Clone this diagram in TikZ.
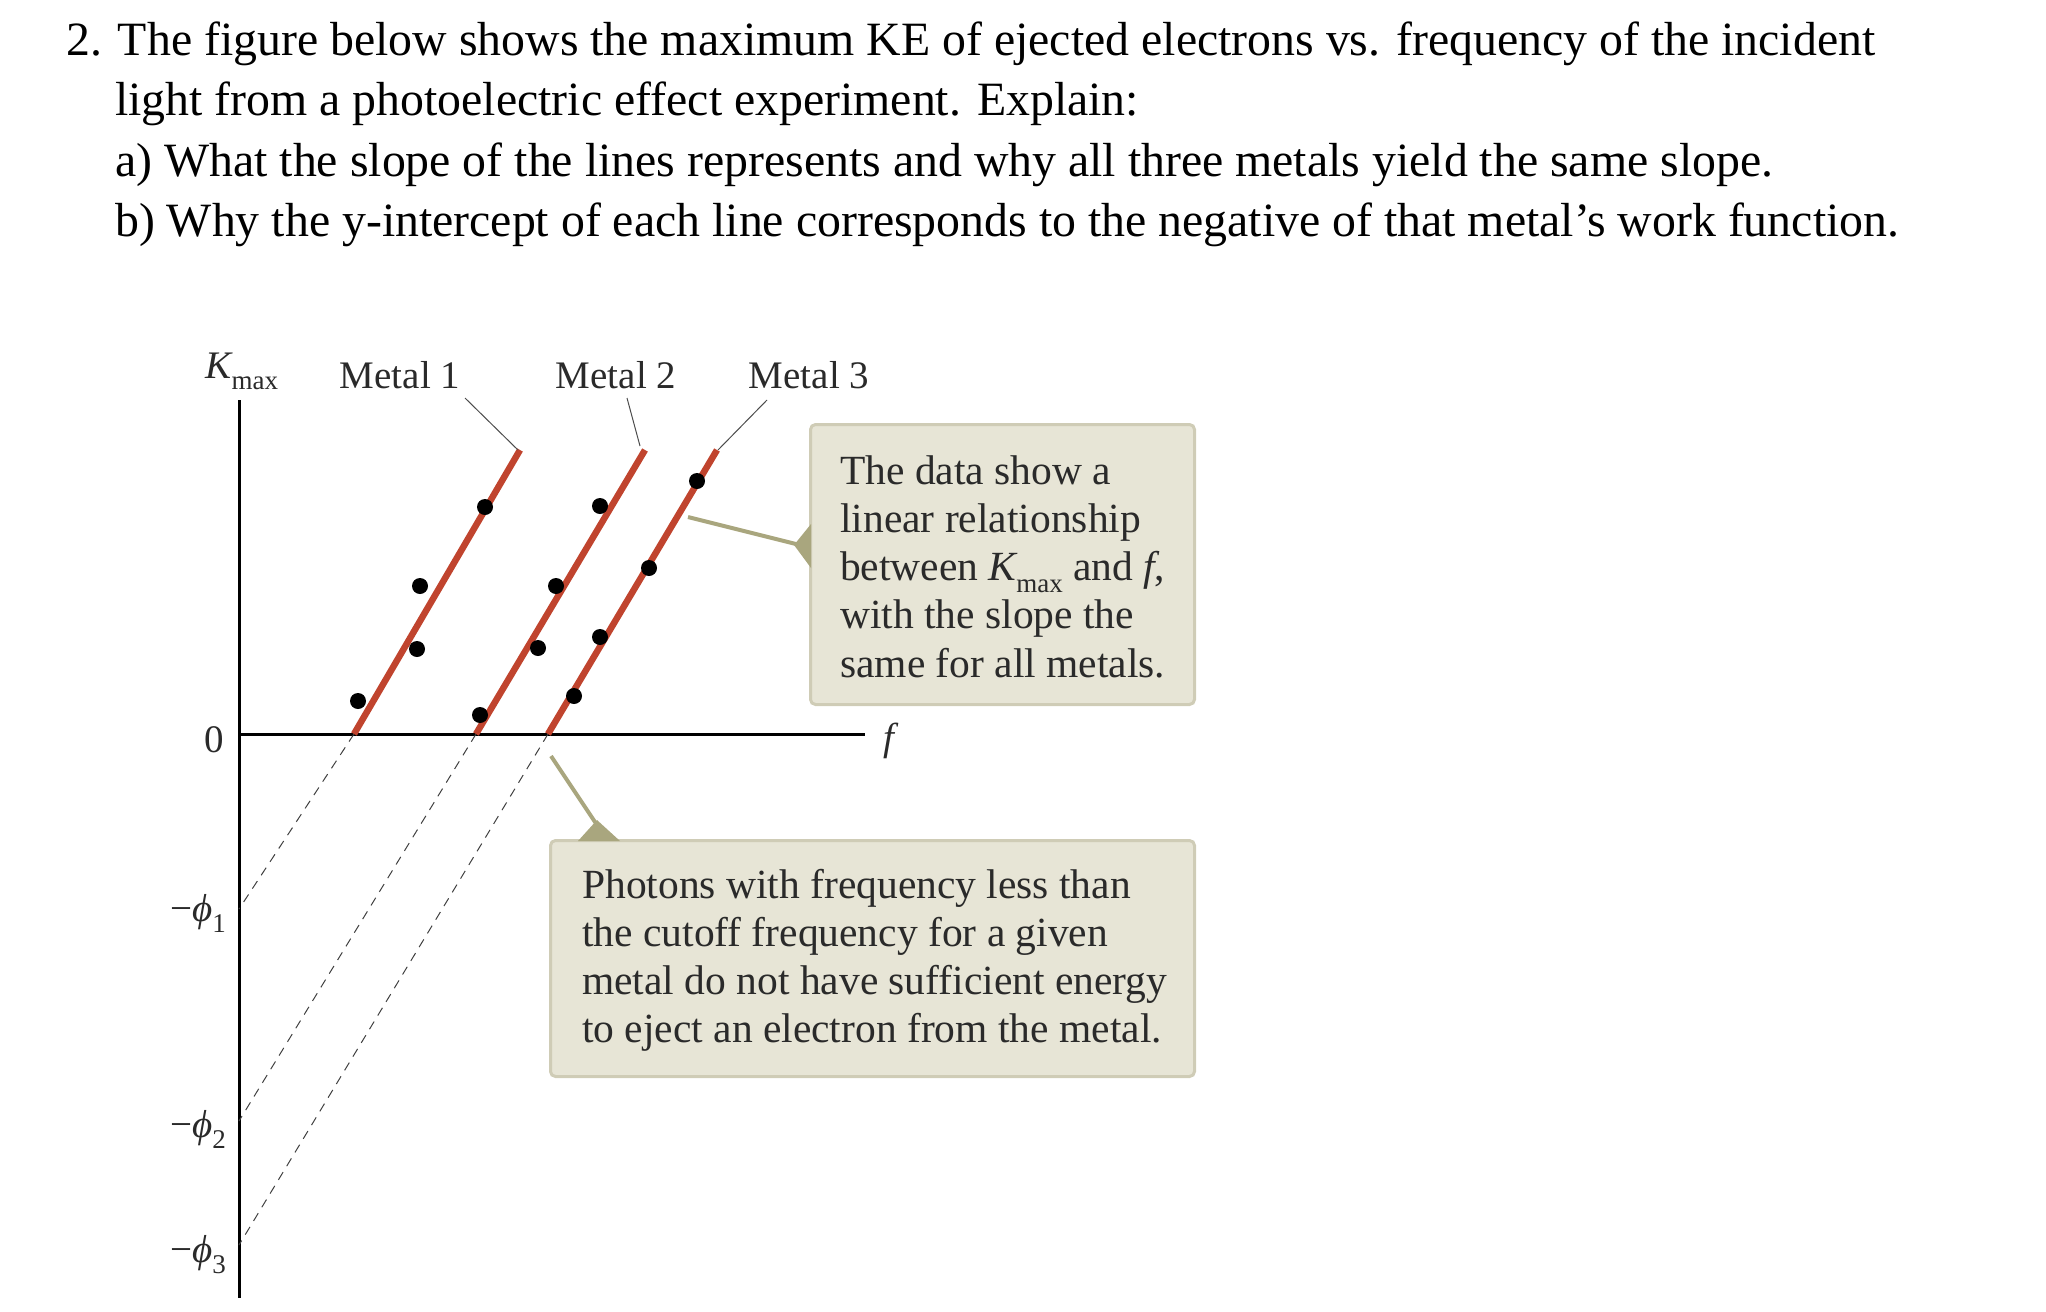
\documentclass[tikz,border=0pt]{standalone}
\usepackage{fontspec}
\setmainfont{Liberation Serif}
\definecolor{boxfill}{HTML}{E7E5D6}
\definecolor{boxline}{HTML}{CFCCB6}
\definecolor{olive}{HTML}{A9A67E}
\definecolor{redl}{HTML}{C0442E}
\definecolor{txt}{HTML}{2A2A2A}
\newcommand{\fs}[1]{\fontsize{#1}{#1}\selectfont}
\newcommand{\sbs}[1]{\raisebox{-0.3em}{\fs{27}#1}}
\begin{document}
\begin{tikzpicture}[x=1pt,y=-1pt,
  title/.style={anchor=base west,inner sep=0pt,font=\fs{47.8}},
  lab/.style={inner sep=0pt,font=\fs{39},text=txt},
  redline/.style={draw=redl,line width=6.5pt},
  dashl/.style={draw=black!75,dashed,line width=1pt,dash pattern=on 9pt off 7pt},
  dot/.style={circle,fill=black,inner sep=0pt,minimum size=16pt},
  leader/.style={draw=black!70,line width=1pt},
  callbox/.style={draw=boxline,fill=boxfill,line width=3pt,rounded corners=5pt},
  btext/.style={anchor=base west,inner sep=0pt,font=\fs{41.5},text=txt}]
\useasboundingbox (0,0) rectangle (2046,1312);
% title
\node[title] (t1) at (66,55) {2. The figure below shows the maximum KE of ejected electrons vs. frequency of the incident};
\node[title] (t2) at (115,115) {light from a photoelectric effect experiment. Explain:};
\node[title] (t3) at (115,176) {a) What the slope of the lines represents and why all three metals yield the same slope.};
\node[title] (t4) at (115,236) {b) Why the y-intercept of each line corresponds to the negative of that metal’s work function.};
% axes
\coordinate (yt) at (239,400); \coordinate (yb) at (239,1298);
\coordinate (xl) at (239,734); \coordinate (xr) at (865,734);
\draw[line width=3pt] (yt) -- (yb);
\draw[line width=3pt] (xl) -- (xr);
\node[lab] (f) at (891,741) {\textit{f}};
\node[lab] (zero) at (214,740) {0};
\node[lab,anchor=base] (km) at (242,378) {\textit{K}\kern-2pt\sbs{max}};
\node[lab,anchor=base] (m1) at (400,388) {Metal 1};
\node[lab,anchor=base] (m2) at (616,388) {Metal 2};
\node[lab,anchor=base] (m3) at (809,388) {Metal 3};
\node[lab,anchor=base east] (p1) at (226,921) {−\textit{ϕ}\sbs{1}};
\node[lab,anchor=base east] (p2) at (226,1137) {−\textit{ϕ}\sbs{2}};
\node[lab,anchor=base east] (p3) at (226,1262) {−\textit{ϕ}\sbs{3}};
% intercepts and tops
\coordinate (i1) at (354,734); \coordinate (i2) at (476,734); \coordinate (i3) at (548,734);
\coordinate (a1) at (520,450); \coordinate (a2) at (645,450); \coordinate (a3) at (717,450);
\coordinate (w1) at (239,909); \coordinate (w2) at (239,1121); \coordinate (w3) at (239,1245);
\draw[dashl] (i1) -- (w1); \draw[dashl] (i2) -- (w2); \draw[dashl] (i3) -- (w3);
\draw[redline] (i1) -- (a1); \draw[redline] (i2) -- (a2); \draw[redline] (i3) -- (a3);
% leaders
\draw[leader] (465,398) -- (518,450);
\draw[leader] (627,398) -- (640,446);
\draw[leader] (767,400) -- (718,450);
% dots
\foreach \x/\y [count=\i] in {358/701,417/649,420/586,485/507,480/715,538/648,556/586,600/506,574/696,600/637,649/568,697/481}
  \node[dot] (d\i) at (\x,\y) {};
% box 1
\node[callbox,minimum width=384pt,minimum height=280pt,anchor=north west] (b1) at (809,423) {};
\draw[olive,line width=4pt] (688,517) -- (800,545);
\fill[olive] (794,545) -- (811,524) -- (811,568) -- cycle;
\node[btext] (b1a) at (840,484) {The data show a};
\node[btext] (b1b) at (840,532) {linear relationship};
\node[btext] (b1c) at (840,580) {between \textit{K}\kern-2pt\sbs{max} and \textit{f},};
\node[btext] (b1d) at (840,628) {with the slope the};
\node[btext] (b1e) at (840,677) {same for all metals.};
% box 2
\node[callbox,minimum width=644pt,minimum height=236pt,anchor=north west] (b2) at (549,839) {};
\draw[olive,line width=4pt] (551,756) -- (597,825);
\fill[olive] (578,841) -- (597,820) -- (620,841) -- cycle;
\node[btext] (b2a) at (582,898) {Photons with frequency less than};
\node[btext] (b2b) at (582,946) {the cutoff frequency for a given};
\node[btext] (b2c) at (582,994) {metal do not have sufficient energy};
\node[btext] (b2d) at (582,1042) {to eject an electron from the metal.};
\end{tikzpicture}
\end{document}
